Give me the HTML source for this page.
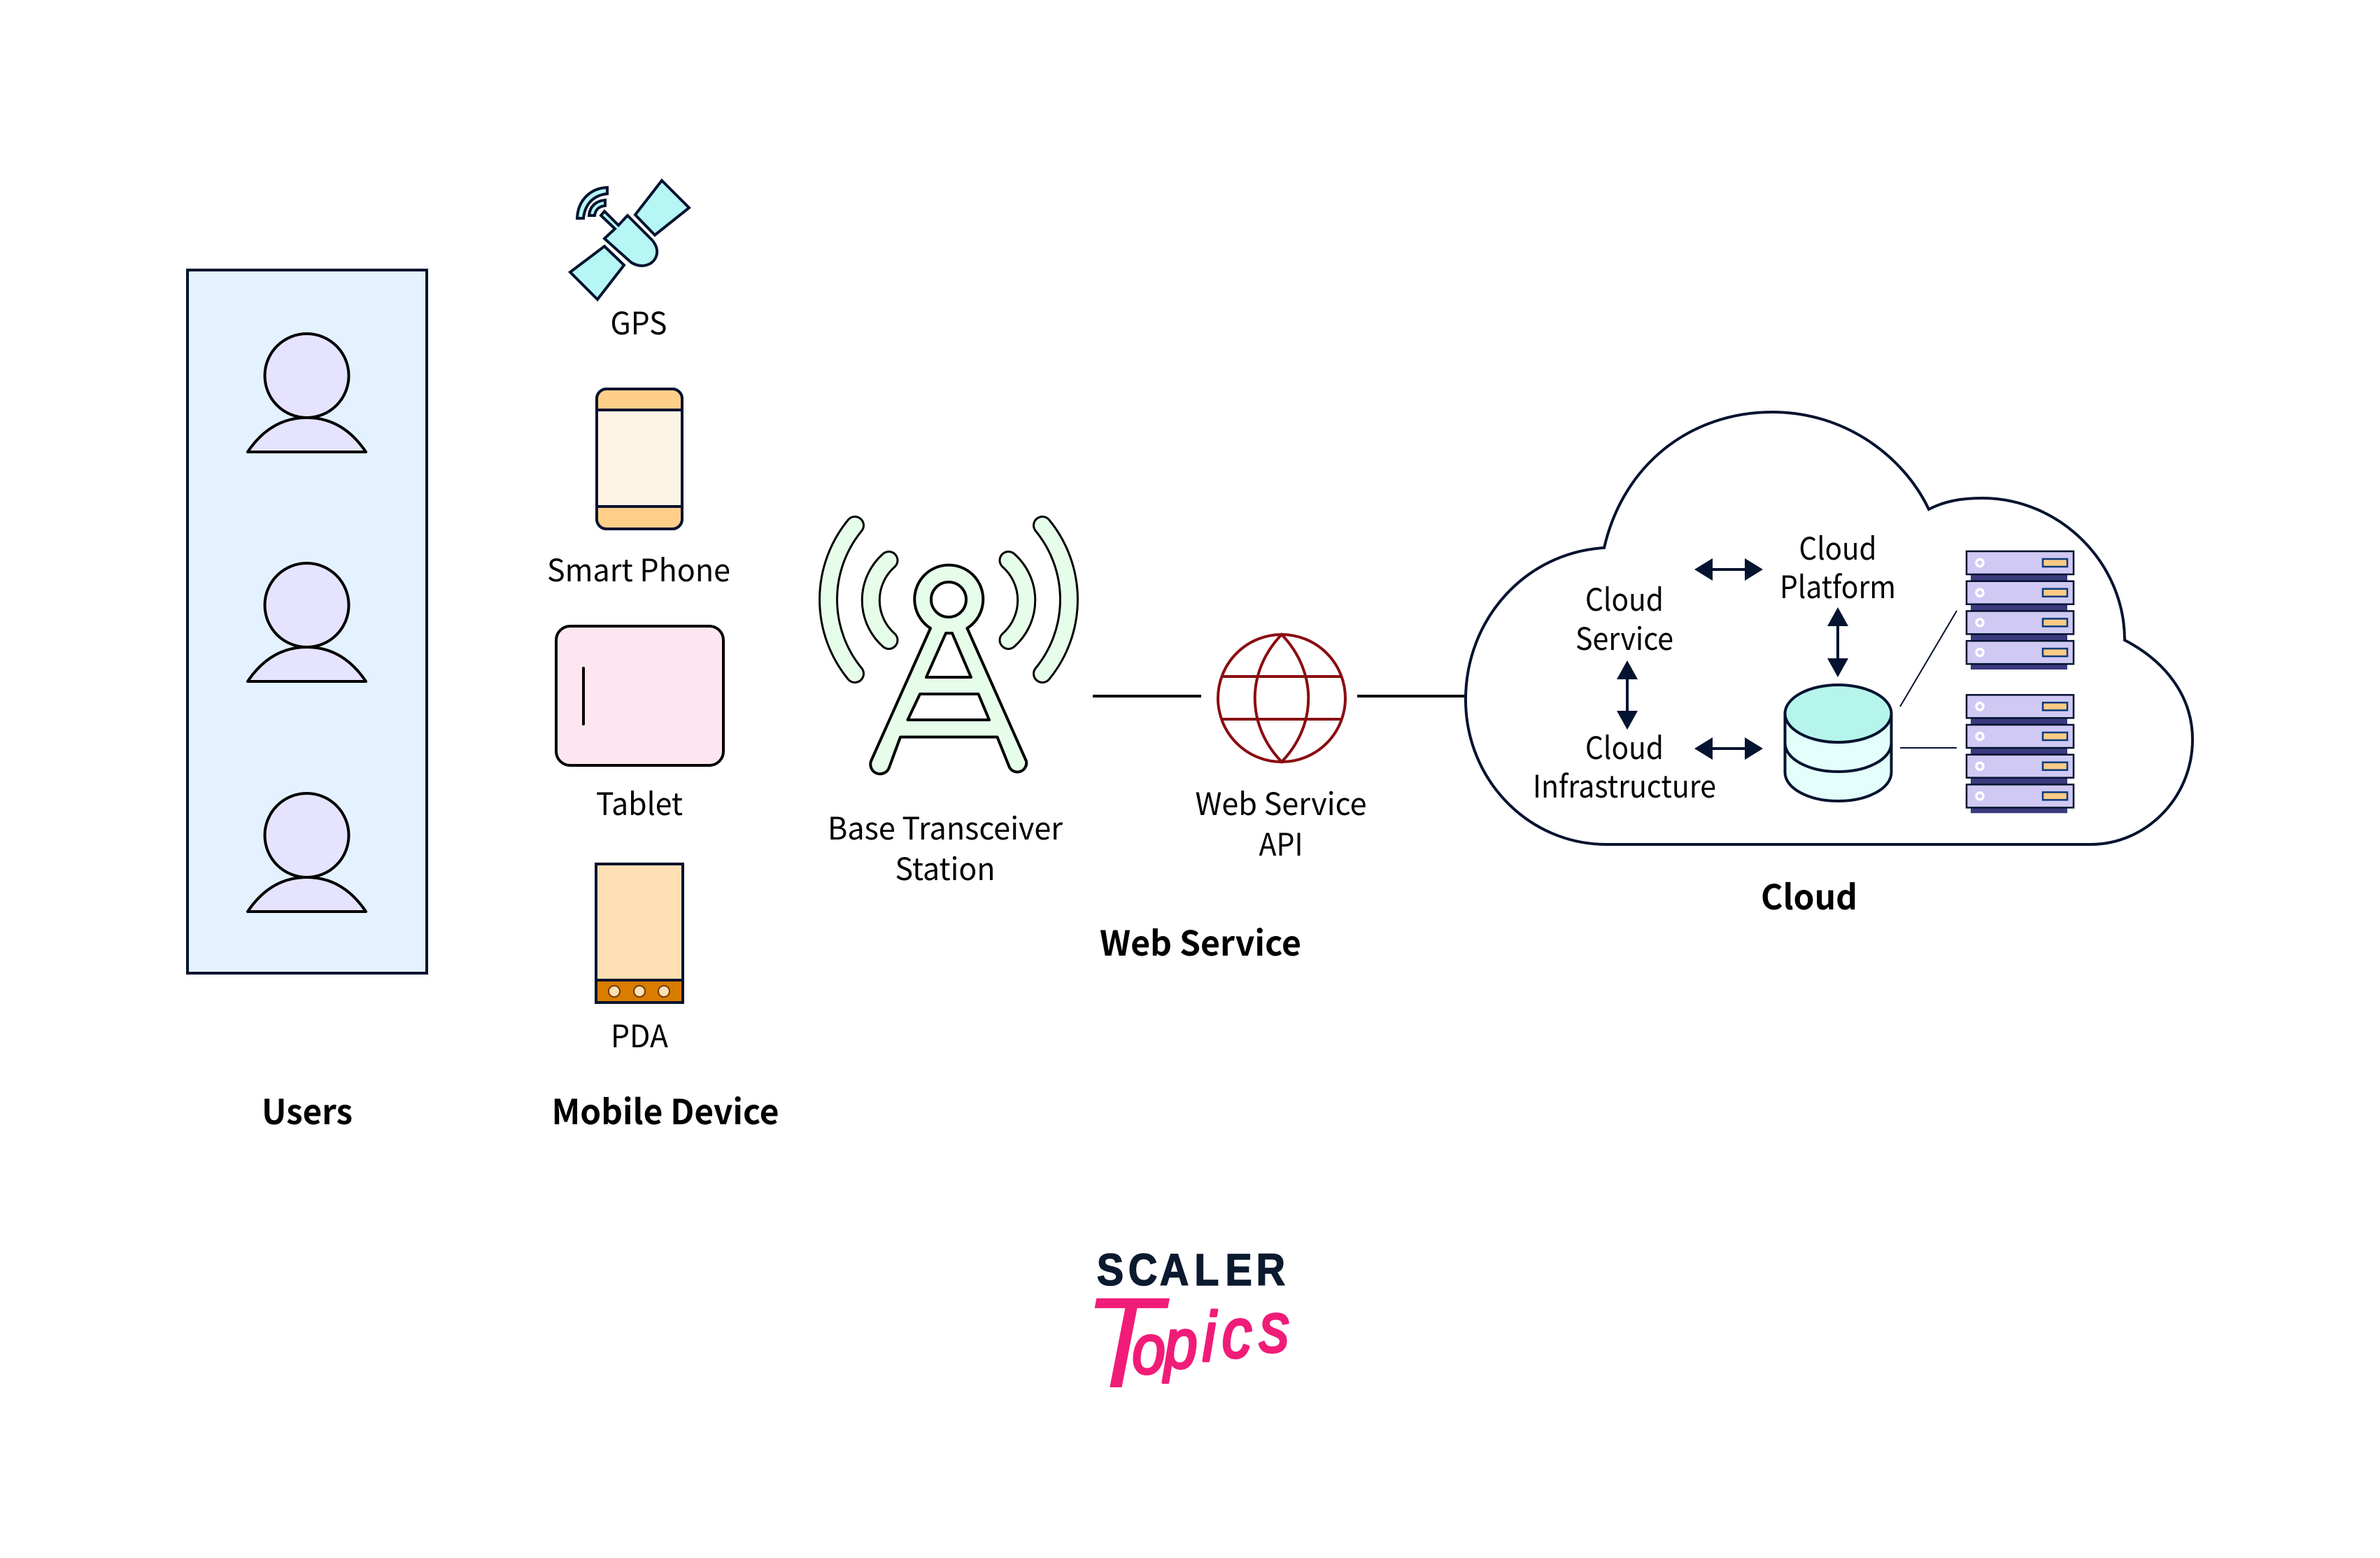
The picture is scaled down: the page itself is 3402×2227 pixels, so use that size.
<!DOCTYPE html>
<html><head><meta charset="utf-8"><style>
html,body{margin:0;padding:0;background:#fff}
svg{display:block}
text{font-family:"Noto Sans CJK JP","Liberation Sans",sans-serif;fill:#000}
.l{font-size:44px;text-anchor:middle}
.b{font-size:49px;font-weight:700;text-anchor:middle}
.t{font-family:"Liberation Sans",sans-serif;font-style:italic;fill:#f01c78;stroke:#f01c78;stroke-linejoin:round}
</style></head><body>
<svg xmlns="http://www.w3.org/2000/svg" width="3402" height="2227" viewBox="0 0 3402 2227">
<defs>
<g id="person"><circle cx="0" cy="0" r="60" fill="#e5e3fd" stroke="#000" stroke-width="4"/><path d="M-84.500 109 C-65 80 -38 60 0 60 C38 60 65 80 84.500 109 Z" fill="#e5e3fd" stroke="#000" stroke-width="4" stroke-linejoin="round"/></g>
<g id="unit"><rect x="2811" y="788" width="153" height="33" fill="#cfc9f4" stroke="#04132f" stroke-width="2.500"/><circle cx="2830" cy="804.500" r="5" fill="#cfc9f4" stroke="#fff" stroke-width="3.500"/><rect x="2920" y="799" width="35" height="11" fill="#fecb85" stroke="#0b3a7a" stroke-width="2.500"/></g>
<g id="stack"><rect x="2817" y="820" width="138" height="137" fill="#3a3a7e"/><use href="#unit"/><use href="#unit" y="42.700"/><use href="#unit" y="85.400"/><use href="#unit" y="128.100"/></g>
<path id="arcs" d="M1222 751A167 167 0 0 0 1222 963M1270.500 801A76 76 0 0 0 1270.500 915"/>
</defs>

<rect x="268" y="386" width="342" height="1005" fill="#e3f2fe" stroke="#04132f" stroke-width="4"/>
<use href="#person" x="438.500" y="537"/><use href="#person" x="438.500" y="865"/><use href="#person" x="438.500" y="1194"/>

<g fill="#b6f7f6" stroke="#04132f" stroke-width="4">
<path d="M946 258L985 297L936 336L908 307Z"/>
<path d="M864 352L892 379L854 428L815 389Z"/>
<path d="M859 308L864 302L884 322L897 308L932 343C945 358 938 372 929 377C919 382 910 380 902 375L864 341L879 327Z"/>
<path d="M868 268V277C848 279 836 292 834 312H825C826 287 843 269 868 268Z"/>
<path d="M865 286V294C856 295 851 300 850 308H842C843 295 852 287 865 286Z"/>
</g>
<text class="l" x="913" y="478" textLength="81" lengthAdjust="spacingAndGlyphs">GPS</text>

<rect x="853" y="556" width="122" height="200" rx="14" fill="#fdf4e6" stroke="#04132f" stroke-width="4"/>
<path d="M853 586V570A14 14 0 0 1 867 556H961A14 14 0 0 1 975 570V586Z" fill="#ffcf8a" stroke="#04132f" stroke-width="4"/>
<path d="M853 724V742A14 14 0 0 0 867 756H961A14 14 0 0 0 975 742V724Z" fill="#ffcf8a" stroke="#04132f" stroke-width="4"/>
<text class="l" x="913" y="831" textLength="262" lengthAdjust="spacingAndGlyphs">Smart Phone</text>

<rect x="795" y="895" width="239" height="199" rx="20" fill="#fee6f1" stroke="#000" stroke-width="4"/>
<line x1="834" y1="955" x2="834" y2="1035" stroke="#000" stroke-width="4" stroke-linecap="round"/>
<text class="l" x="914" y="1165" textLength="124" lengthAdjust="spacingAndGlyphs">Tablet</text>

<rect x="852" y="1235" width="124" height="198" fill="#fee0b4" stroke="#04132f" stroke-width="4"/>
<rect x="852" y="1401" width="124" height="32" fill="#d97c00" stroke="#04132f" stroke-width="4"/>
<g fill="#fee0b4" stroke="#6e3a08" stroke-width="2"><circle cx="878" cy="1417" r="8"/><circle cx="914" cy="1417" r="8"/><circle cx="949" cy="1417" r="8"/></g>
<text class="l" x="914" y="1497" textLength="82" lengthAdjust="spacingAndGlyphs">PDA</text>

<text class="b" x="439" y="1607" textLength="130" lengthAdjust="spacingAndGlyphs">Users</text>
<text class="b" x="951" y="1607" textLength="325" lengthAdjust="spacingAndGlyphs">Mobile Device</text>

<g fill="none" stroke-linecap="round">
<use href="#arcs" stroke="#000" stroke-width="28"/><use href="#arcs" stroke="#e5fde9" stroke-width="22"/>
<g transform="translate(2712,0) scale(-1,1)"><use href="#arcs" stroke="#000" stroke-width="28"/><use href="#arcs" stroke="#e5fde9" stroke-width="22"/></g>
</g>
<path fill-rule="evenodd" fill="#e5fde9" stroke="#000" stroke-width="4" stroke-linejoin="round" d="M1330 898L1245 1088A13 13 0 0 0 1271 1097L1287 1053.500H1425.500L1443 1097A13 13 0 0 0 1467 1088L1382.500 898A49 49 0 1 0 1330 898ZM1356 832A25 25 0 1 0 1356 882A25 25 0 1 0 1356 832ZM1352 905H1361L1388 968H1324ZM1315 992H1398.500L1414 1029H1297.500Z"/>
<text class="l" x="1351" y="1200" textLength="336" lengthAdjust="spacingAndGlyphs">Base Transceiver</text>
<text class="l" x="1351" y="1258" textLength="143" lengthAdjust="spacingAndGlyphs">Station</text>

<g stroke="#000" stroke-width="4"><line x1="1562" y1="995" x2="1717" y2="995"/><line x1="1940" y1="995" x2="2097" y2="995"/></g>
<g fill="none" stroke="#8a0d12" stroke-width="4"><circle cx="1832" cy="998" r="91"/><path d="M1832 907C1781 960 1781 1036 1832 1089C1883 1036 1883 960 1832 907Z"/><line x1="1746" y1="967" x2="1918" y2="967"/><line x1="1746" y1="1028" x2="1918" y2="1028"/></g>
<text class="l" x="1831" y="1165" textLength="245" lengthAdjust="spacingAndGlyphs">Web Service</text>
<text class="l" x="1831" y="1223" textLength="63" lengthAdjust="spacingAndGlyphs">API</text>
<text class="b" x="1716" y="1366" textLength="288" lengthAdjust="spacingAndGlyphs">Web Service</text>

<path fill="#fff" stroke="#04132f" stroke-width="4" d="M2296 1207C2185 1207 2095 1115 2095 1000C2095 885 2180 790 2293 783C2320 665 2415 589 2534 589C2635 589 2720 650 2757 728C2780 716 2805 712 2833 712C2945 712 3037 805 3037 915C3095 945 3134 995 3134 1057C3134 1140 3068 1207 2988 1207Z"/>
<text class="l" x="2627" y="800" textLength="111" lengthAdjust="spacingAndGlyphs">Cloud</text><text class="l" x="2627" y="855" textLength="166" lengthAdjust="spacingAndGlyphs">Platform</text>
<text class="l" x="2322" y="873" textLength="112" lengthAdjust="spacingAndGlyphs">Cloud</text><text class="l" x="2322" y="929" textLength="140" lengthAdjust="spacingAndGlyphs">Service</text>
<text class="l" x="2322" y="1085" textLength="112" lengthAdjust="spacingAndGlyphs">Cloud</text><text class="l" x="2322" y="1140" textLength="262" lengthAdjust="spacingAndGlyphs">Infrastructure</text>
<text class="b" x="2586" y="1300" textLength="138" lengthAdjust="spacingAndGlyphs">Cloud</text>

<g fill="#04132f" stroke="#04132f">
<g stroke-width="4"><line x1="2445" y1="814" x2="2497" y2="814"/><line x1="2445" y1="1070" x2="2497" y2="1070"/><line x1="2326" y1="965" x2="2326" y2="1022"/><line x1="2627" y1="890" x2="2627" y2="946"/></g>
<g stroke="none">
<path d="M2422 814L2448 798V830ZM2520 814L2494 798V830Z"/>
<path d="M2422 1070L2448 1054V1086ZM2520 1070L2494 1054V1086Z"/>
<path d="M2326 944L2311 971H2341ZM2326 1043L2311 1016H2341Z"/>
<path d="M2627 868L2612 895H2642ZM2627 968L2612 941H2642Z"/>
</g></g>

<g stroke="#04132f" stroke-width="4">
<path d="M2551.500 1020V1104C2551.500 1127 2585.500 1145 2627.500 1145C2669.500 1145 2703.500 1127 2703.500 1104V1020Z" fill="#e3fefb"/>
<path d="M2551.500 1062C2551.500 1085 2585.500 1103 2627.500 1103C2669.500 1103 2703.500 1085 2703.500 1062" fill="none"/>
<ellipse cx="2627.500" cy="1020" rx="76" ry="41" fill="#b6f5ec"/>
</g>
<g stroke="#04132f" stroke-width="2"><line x1="2716" y1="1010" x2="2797" y2="873"/><line x1="2716" y1="1069" x2="2797" y2="1069"/></g>

<use href="#stack"/><use href="#stack" y="205.300"/>

<g transform="translate(0,1837) scale(0.9,1)" style="font-family:'Liberation Sans',sans-serif;font-weight:700;font-size:64px">
<text y="0" x="1742 1792 1842 1897 1946 1995" style="font-family:'Liberation Sans',sans-serif;fill:#0b1a2e;stroke:#0b1a2e;stroke-width:1.500">SCALER</text>
</g>
<text class="t" x="1548" y="1983" style="font-size:185px;stroke-width:0">T</text>
<g transform="scale(0.85,1)"><text class="t" style="font-size:100px;stroke-width:4" x="1904 1958 2022 2055 2118" y="1963 1955 1945 1940 1932">opics</text></g>
</svg>
</body></html>
